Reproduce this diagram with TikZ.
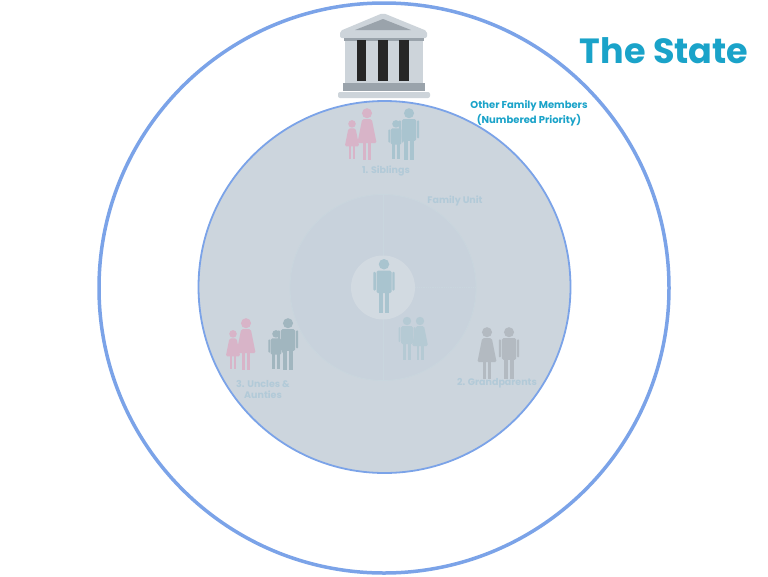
\documentclass[tikz,border=0pt]{standalone}
\usepackage{fontspec}
\setmainfont{Poppins}
\begin{document}
\begin{tikzpicture}[x=1pt,y=-1pt,
  lbl/.style={font=\bfseries\fontsize{9.5}{11}\selectfont},
  pics/man/.style={code={
    \fill (0,-19) circle (4.2);
    \fill[rounded corners=1.5] (-6,-14) rectangle (6,4);
    \fill (-4,3) rectangle (-0.6,20); \fill (0.6,3) rectangle (4,20);
    \fill[rounded corners=1] (-8.5,-13) rectangle (-6.6,2);
    \fill[rounded corners=1] (6.6,-13) rectangle (8.5,2);}},
  pics/woman/.style={code={
    \fill (0,-19) circle (4.2);
    \fill[rounded corners=1.5] (-4,-14) -- (4,-14) -- (8,6) -- (-8,6) -- cycle;
    \fill (-3.5,5) rectangle (-0.6,20); \fill (0.6,5) rectangle (3.5,20);}}]
\definecolor{ring}{HTML}{7BA3E8}
\definecolor{mid}{HTML}{CCD5DD}
\definecolor{inn}{HTML}{C8D2DC}
\definecolor{cen}{HTML}{D2DAE1}
\definecolor{teal}{HTML}{1AA3C9}
\definecolor{pinkf}{HTML}{D8B4C8}
\definecolor{bluef}{HTML}{A9C4CF}
\definecolor{grayf}{HTML}{B3BAC1}
\definecolor{faint}{HTML}{BCCCD6}
\definecolor{lbltxt}{HTML}{B2CAD8}
\useasboundingbox (0,0) rectangle (768,576);
\fill[white] (0,0) rectangle (768,576);
\draw[ring,line width=3.5] (384,288) circle (285);
\node[circle,minimum size=372,fill=mid,draw=ring,line width=1.8] (midc) at (384.5,287) {};
\node[circle,minimum size=186,fill=inn,draw=faint!80!white,line width=0.8] (innc) at (383,287.5) {};
\draw[faint!80!white,line width=0.8] (innc.north) -- (innc.south);
\draw[faint!80!white,line width=0.8,densely dotted] (innc.center) -- (innc.east);
\node[circle,minimum size=64,fill=cen] (cenc) at (383,287.5) {};
\pic[bluef,scale=1.25] at (384,288) {man};
\pic[bluef!60!inn] at (407,340) {man};
\pic[bluef!60!inn] at (420,340) {woman};
% siblings
\pic[pinkf,scale=1.2] at (367,136) {woman};
\pic[pinkf,scale=0.9] at (352,141) {woman};
\pic[bluef,scale=1.2] at (409,136) {man};
\pic[bluef,scale=0.9] at (396,141) {man};
\node[lbl,text=lbltxt] (sib) at (386,171) {1. Siblings};
\node[lbl,text=lbltxt] (fu) at (455,201) {Family Unit};
% uncles
\pic[pinkf,scale=1.2] at (246,346) {woman};
\pic[pinkf,scale=0.9] at (233,351) {woman};
\pic[bluef!80!gray,scale=1.2] at (288,346) {man};
\pic[bluef!80!gray,scale=0.9] at (276,351) {man};
\node[lbl,text=lbltxt,align=center] (unc) at (263,389) {3. Uncles \&\\Aunties};
% grandparents
\pic[grayf,scale=1.2] at (487,355) {woman};
\pic[grayf,scale=1.2] at (509,355) {man};
\node[lbl,text=lbltxt] (gp) at (497,383) {2. Grandparents};
% building
\definecolor{bld}{HTML}{CDD4DA}
\definecolor{bldd}{HTML}{9AA3AB}
\fill[bld,rounded corners=2] (338,92) rectangle (430,98);
\fill[bldd] (343,83) rectangle (425,91);
\fill[bld] (345,40) rectangle (423,83);
\fill[bld,rounded corners=2] (340,31) -- (383,13) -- (427,31) -- (427,38) -- (340,38) -- cycle;
\fill[bldd] (355,30) -- (383,19) -- (411,30) -- cycle;
\fill[bldd] (344,38) rectangle (424,41);
\fill[black!85] (357,40) rectangle (366,81);
\fill[black!85] (378,40) rectangle (388,81);
\fill[black!85] (399,40) rectangle (409,81);
\node[font=\bfseries\fontsize{35}{38}\selectfont,text=teal] (state) at (664,51) {The State};
\node[font=\bfseries\fontsize{10}{15}\selectfont,text=teal,align=center] (ofm) at (529,113) {Other Family Members\\(Numbered Priority)};
\end{tikzpicture}
\end{document}
